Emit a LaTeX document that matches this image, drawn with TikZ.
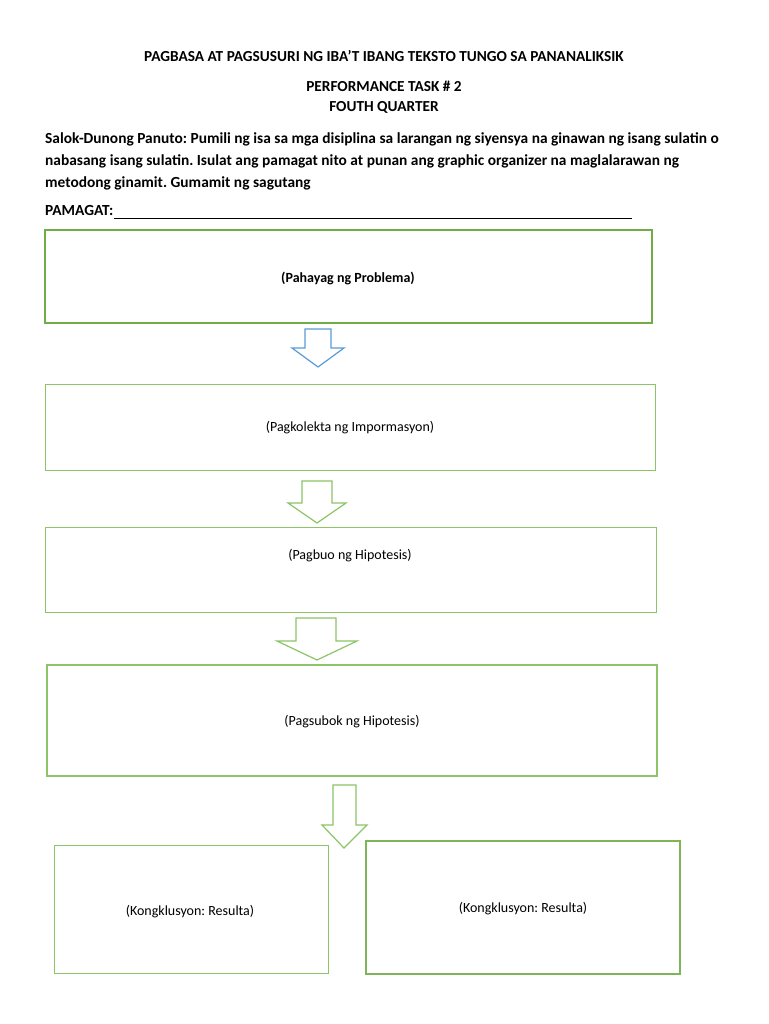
\documentclass[tikz,border=0pt]{standalone}
\usepackage{fontspec}
\setmainfont{Carlito}
\frenchspacing
\definecolor{boxgreen}{HTML}{70AD47}
\definecolor{litegreen}{HTML}{8CC467}
\definecolor{arrowblue}{HTML}{5B9BD5}
\begin{document}
\begin{tikzpicture}[x=1pt,y=-1pt,
  hdr/.style={font=\fontsize{15.3}{18}\selectfont\bfseries, anchor=base, inner sep=0pt},
  para/.style={font=\fontsize{15.4}{22}\selectfont\bfseries, anchor=base west, inner sep=0pt},
  lbl/.style={font=\fontsize{14}{17}\selectfont, anchor=base, inner sep=0pt},
  thickbox/.style={draw=boxgreen, line width=2pt},
  thinbox/.style={draw=litegreen, line width=1pt},
  garrow/.style={draw=litegreen, line width=1.2pt, line join=miter},
  barrow/.style={draw=arrowblue, line width=1.2pt, line join=miter}]
\useasboundingbox (0,0) rectangle (768,1024);
\fill[white] (0,0) rectangle (768,1024);

% header
\node[hdr] (t1) at (384,62) {PAGBASA AT PAGSUSURI NG IBA’T IBANG TEKSTO TUNGO SA PANANALIKSIK};
\node[hdr] (t2) at (384,92) {PERFORMANCE TASK \# 2};
\node[hdr] (t3) at (384,112) {FOUTH QUARTER};

\node[para] (p1) at (45,144) {Salok-Dunong Panuto: Pumili ng isa sa mga disiplina sa larangan ng siyensya na ginawan ng isang sulatin o};
\node[para] (p2) at (45,166) {nabasang isang sulatin. Isulat ang pamagat nito at punan ang graphic organizer na maglalarawan ng};
\node[para] (p3) at (45,188) {metodong ginamit. Gumamit ng sagutang};
\node[para] (pam) at (45,216) {PAMAGAT:};
\coordinate (lineend) at (632,218);
\draw[line width=0.9pt] (pam.base east |- lineend) -- (lineend);

% boxes
\draw[thickbox] (45,230) rectangle (652,323);
\node[lbl, font=\fontsize{14}{17}\selectfont\bfseries] (b1) at (348,282) {(Pahayag ng Problema)};

\draw[thinbox] (45,384) rectangle (655,470);
\node[lbl] (b2) at (350,431) {(Pagkolekta ng Impormasyon)};

\draw[thinbox] (45,527) rectangle (656,612);
\node[lbl] (b3) at (350,559) {(Pagbuo ng Hipotesis)};

\draw[thinbox, line width=1.4pt] (47,665) rectangle (657,776);
\node[lbl] (b4) at (352,725) {(Pagsubok ng Hipotesis)};

\draw[thinbox] (54,845) rectangle (328,973);
\node[lbl] (b5) at (190,915) {(Kongklusyon: Resulta)};

\draw[thickbox, draw=boxgreen!90!white] (366,841) rectangle (680,974);
\node[lbl] (b6) at (523,912) {(Kongklusyon: Resulta)};

% block arrows
\draw[barrow] (305,329) -- (331,329) -- (331,348) -- (344,348) -- (318,367) -- (292,348) -- (305,348) -- cycle;
\draw[garrow] (302,481) -- (332,481) -- (332,503) -- (346,503) -- (317,523) -- (288,503) -- (302,503) -- cycle;
\draw[garrow] (296,618) -- (336,618) -- (336,641) -- (357,641) -- (317,660) -- (277,641) -- (296,641) -- cycle;
\draw[garrow] (333,785) -- (356,785) -- (356,825) -- (367,825) -- (344,848) -- (322,825) -- (333,825) -- cycle;
\end{tikzpicture}
\end{document}
